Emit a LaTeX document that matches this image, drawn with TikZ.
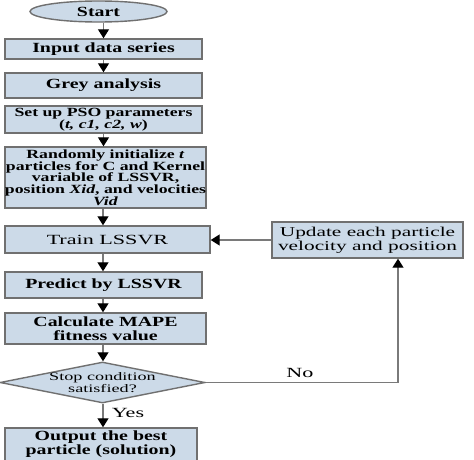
\documentclass[tikz,border=0pt]{standalone}
\usepackage{fontspec}
\setmainfont{Liberation Serif}
\newfontfamily\boldwide{Liberation Serif}[FakeStretch=1.42]
\newfontfamily\regwide{Liberation Serif}[FakeStretch=1.58]
\usetikzlibrary{shapes.geometric,arrows.meta}
\definecolor{boxfill}{HTML}{CCDAE8}
\definecolor{boxline}{HTML}{707070}
\definecolor{conn}{HTML}{7A7A7A}
\tikzset{
  procbox/.style={draw=boxline, line width=1.4pt, fill=boxfill, inner sep=0pt, align=center},
  bigtext/.style={font=\boldwide\fontsize{14}{14}\selectfont\bfseries},
  smalltext/.style={font=\boldwide\fontsize{12.5}{11.7}\selectfont\bfseries},
  regtext/.style={font=\regwide\fontsize{14}{14}\selectfont},
  arr/.style={draw=conn, line width=1.2pt, -{Triangle[width=11pt,length=9pt,color=black]}},
  plainline/.style={draw=conn, line width=1.2pt},
}
\begin{document}
\begin{tikzpicture}[x=1pt,y=-1pt]
\useasboundingbox (0,0) rectangle (474,460);
\fill[white] (0,0) rectangle (474,460);
\coordinate (spine) at (103,0);
\node[procbox, ellipse, bigtext, minimum width=137pt, minimum height=21pt] (start) at (98.5,11.5) {Start};
\node[procbox, bigtext, minimum width=197pt, minimum height=20pt] (input) at (103.5,49) {Input data series};
\node[procbox, bigtext, minimum width=197pt, minimum height=25pt] (grey) at (103.5,85.5) {Grey analysis};
\node[procbox, smalltext, minimum width=197pt, minimum height=27pt] (pso) at (103.5,119.5) {Set up PSO parameters\\(\textit{t, c1, c2, w})};
\node[procbox, smalltext, minimum width=201pt, minimum height=61pt] (init) at (105.5,177.5) {Randomly initialize \textit{t}\\particles for C and Kernel\\variable of LSSVR,\\position \textit{Xid}, and velocities\\\textit{Vid}};
\node[procbox, regtext, minimum width=205pt, minimum height=27pt] (train) at (107.5,239.5) {Train LSSVR};
\node[procbox, bigtext, minimum width=197pt, minimum height=26pt] (predict) at (103.5,285) {Predict by LSSVR};
\node[procbox, bigtext, minimum width=201pt, minimum height=31pt] (calc) at (105.5,328.5) {Calculate MAPE\\fitness value};
\node[procbox, diamond, aspect=5, minimum width=205pt, minimum height=41pt, inner sep=0pt] (dec) at (102.5,382.5) {};
\node[font=\regwide\fontsize{11.5}{12.5}\selectfont, align=center] (dectext) at (dec.center) {Stop condition\\satisfied?};
\node[procbox, bigtext, minimum width=192pt, minimum height=33pt] (output) at (101,444.5) {Output the best\\particle (solution)};
\node[procbox, font=\regwide\fontsize{13.5}{14}\selectfont, minimum width=191pt, minimum height=36pt] (update) at (367.5,240) {Update each particle\\velocity and position};
\coordinate (nocorner) at (398,382.5);
\draw[arr] (input.north |- start.south) -- (input.north);
\draw[arr] (grey.north |- input.south) -- (grey.north);
\draw[arr] (pso.south) -- (pso.south |- init.north);
\draw[arr] (init.south -| spine) -- (train.north -| spine);
\draw[arr] (train.south -| spine) -- (predict.north -| spine);
\draw[arr] (predict.south -| spine) -- (calc.north -| spine);
\draw[arr] (calc.south -| spine) -- (dec.north -| spine);
\draw[arr] (dec.south -| spine) -- node[pos=0.4, right=5pt, regtext] {Yes} (output.north -| spine);
\draw[plainline] (dec.east) -- node[above=1pt, pos=0.49, regtext] {No} (nocorner);
\draw[arr] (nocorner) -- (nocorner |- update.south);
\draw[arr] (update.west) -- (update.west -| train.east);
\end{tikzpicture}
\end{document}
